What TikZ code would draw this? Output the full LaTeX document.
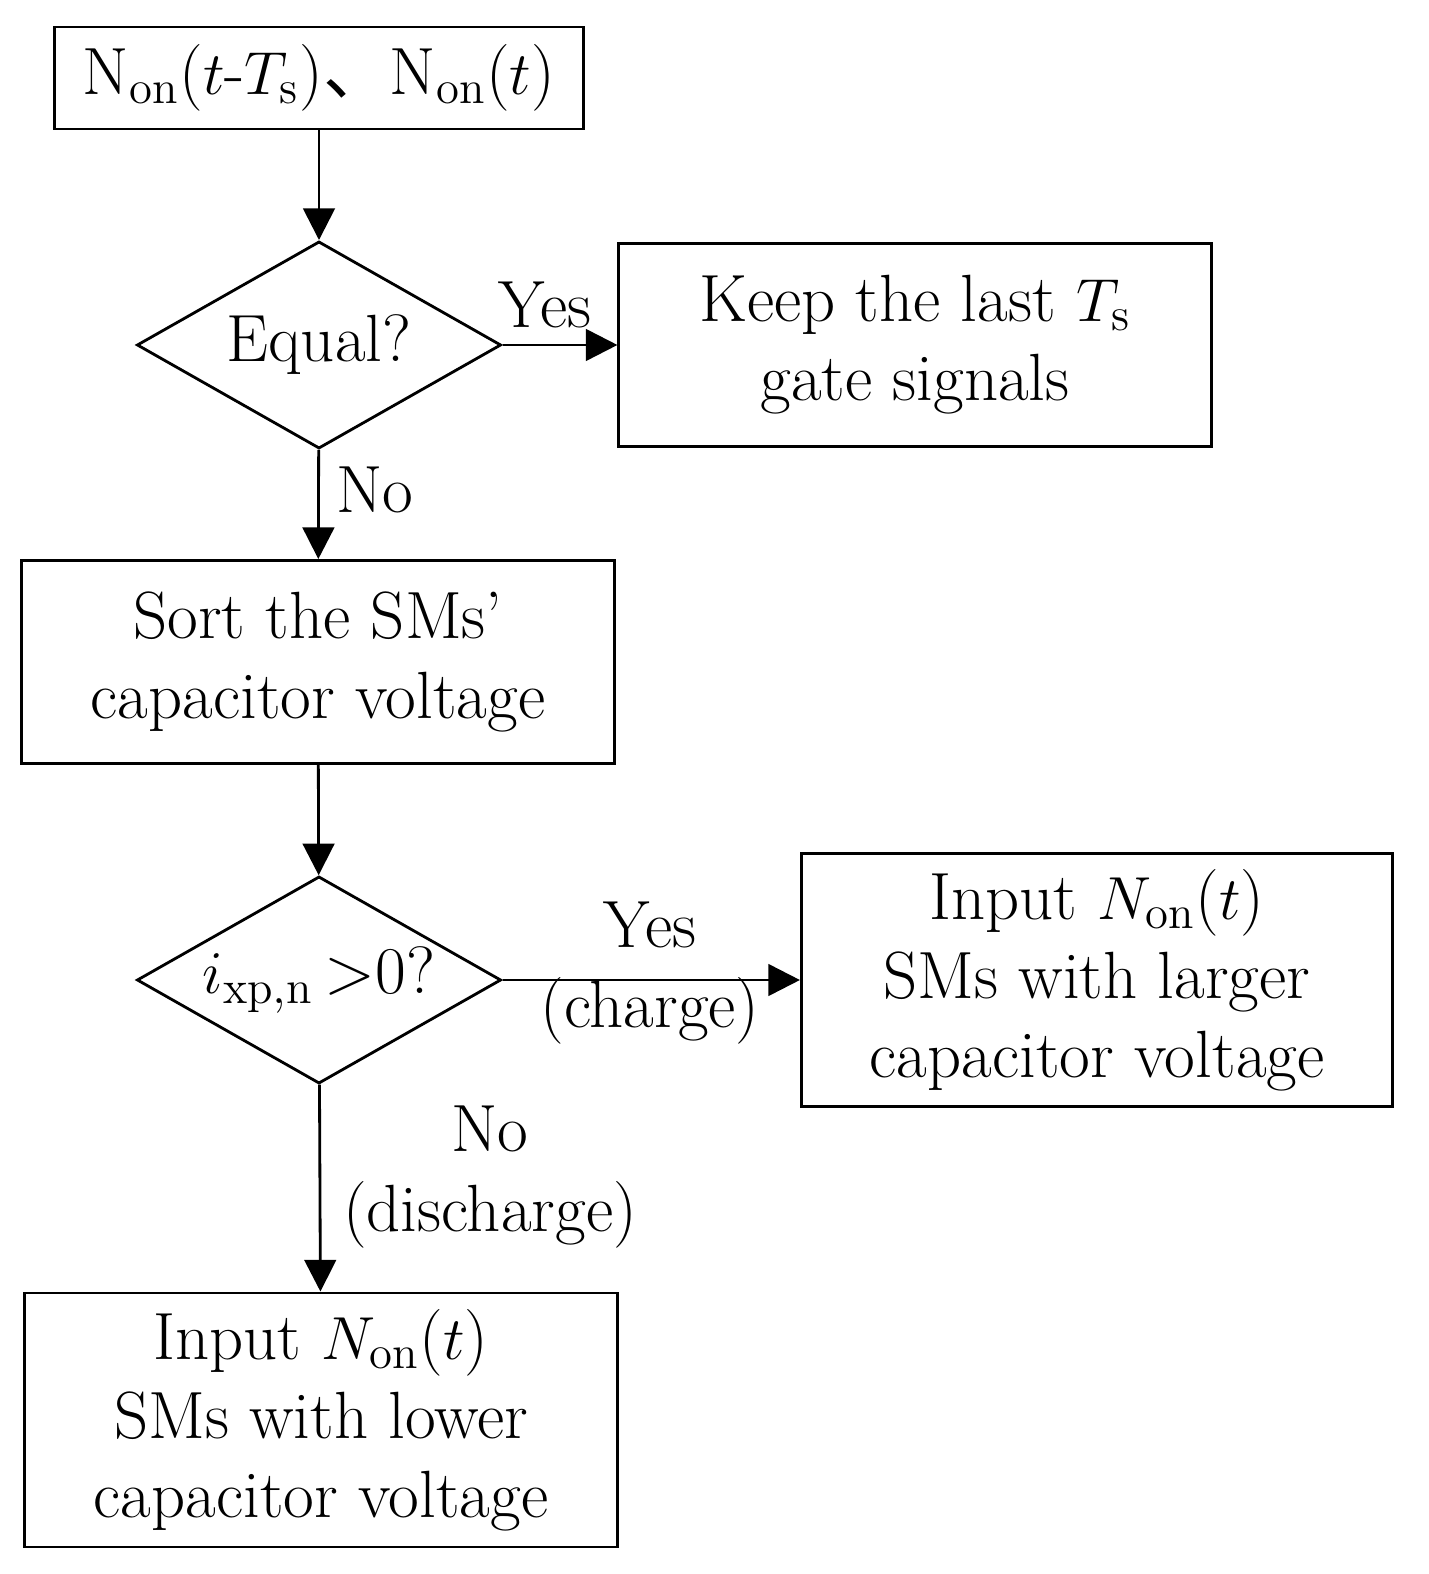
\documentclass[tikz,border=0pt]{standalone}
\usepackage{fontspec}
\newfontfamily\cjk{Noto Sans CJK SC}
\usetikzlibrary{shapes.geometric,arrows.meta}
\tikzset{
  procbox/.style={draw, thick, align=center, inner sep=0pt},
  decision/.style={draw, thick, diamond, aspect=1.76, minimum width=3.64cm, minimum height=2.07cm, inner sep=0pt},
  flow/.style={thick, -{Triangle[length=9pt,width=9pt]}},
  lbl/.style={inner sep=0pt}
}
\begin{document}
\begin{tikzpicture}[x=0.01cm, y=-0.01cm, font=\fontsize{19}{22.5}\selectfont]
        \useasboundingbox (0,0) rectangle (1428,1574);
        \node[procbox, minimum width=5.28cm, minimum height=1.02cm] (start) at (319,78)
            {N$_{\mathrm{on}}$($t$-$T_{\mathrm{s}}$){\cjk 、}N$_{\mathrm{on}}$($t$)};
        \node[decision] (equal) at (319,345) {Equal?};
        \node[procbox, minimum width=5.92cm, minimum height=2.03cm] (keep) at (915,345)
            {Keep the last $T_{\mathrm{s}}$\\gate signals};
        \node[procbox, minimum width=5.93cm, minimum height=2.03cm] (sort) at (318,662)
            {Sort the SMs'\\capacitor voltage};
        \node[decision] (current) at (319,980) {$i_{\mathrm{xp,n}}$\,>0?};
        \node[procbox, minimum width=5.91cm, minimum height=2.53cm] (larger) at (1097,980)
            {Input $N_{\mathrm{on}}$($t$)\\SMs with larger\\capacitor voltage};
        \node[procbox, minimum width=5.92cm, minimum height=2.54cm] (lower) at (321,1420)
            {Input $N_{\mathrm{on}}$($t$)\\SMs with lower\\capacitor voltage};

        \draw[flow] (start) -- (equal);
        \draw[flow] (equal) -- (keep);
        \draw[flow] (equal) -- (sort);
        \draw[flow] (sort) -- (current);
        \draw[flow] (current) -- (larger);
        \draw[flow] (current) -- (lower);

        \node[lbl] (yes1) at (545,305) {Yes};
        \node[lbl] (no1) at (375,490) {No};
        \node[lbl, align=center] (yes2) at (650,973) {Yes\\(charge)};
        \node[lbl, align=center] (no2) at (490,1177) {No\\(discharge)};
\end{tikzpicture}
\end{document}
